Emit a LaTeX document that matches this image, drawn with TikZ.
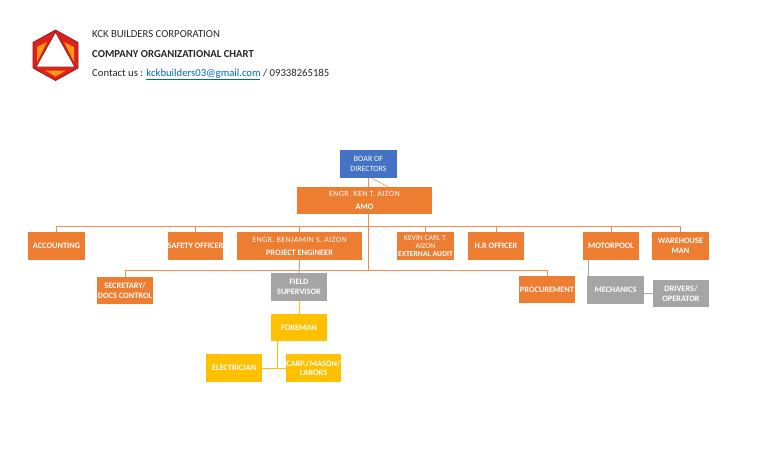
\documentclass[tikz,border=0pt]{standalone}
\usepackage{xcolor}
\usepackage{fontspec}
\setmainfont{Carlito}
\newfontfamily\spacedfont[LetterSpace=5]{Carlito}
\definecolor{chartorange}{HTML}{ED7D31}
\definecolor{chartblue}{HTML}{4472C4}
\definecolor{chartgray}{HTML}{A5A5A5}
\definecolor{chartyellow}{HTML}{FFC000}
\definecolor{linkblue}{HTML}{0563C1}
\definecolor{logored}{HTML}{E0201B}
\definecolor{logodark}{HTML}{8E1A1E}
\definecolor{logoamber}{HTML}{FB9A12}
\newcommand{\thinname}{\fontsize{8}{9.5}\selectfont\mdseries}
\newcommand{\spacedname}{\fontsize{8}{9.5}\spacedfont\selectfont\mdseries}
\tikzset{
  box/.style={inner sep=0pt, align=center, text=white, font=\fontsize{8.3}{9.5}\selectfont\bfseries},
  orangebox/.style={box, fill=chartorange},
  graybox/.style={box, fill=chartgray},
  yellowbox/.style={box, fill=chartyellow},
  sized/.style n args={2}{minimum width=#1pt, minimum height=#2pt},
  orangeline/.style={draw=chartorange!85, line width=1pt},
  grayline/.style={draw=chartgray, line width=1pt},
  yellowline/.style={draw=chartyellow, line width=1pt},
  headtext/.style={anchor=west, inner sep=0pt, text=black!85, font=\fontsize{10.7}{12}\selectfont}
}
\begin{document}
\begin{tikzpicture}[x=1pt, y=-1pt]
  \useasboundingbox (0,0) rectangle (768,466);
  % logo
  \filldraw[fill=logored, draw=logodark, line width=0.8pt] (55.5,30) -- (78,42.5) -- (78,68) -- (55.5,80.5) -- (33,68) -- (33,42.5) -- cycle;
  \fill[logoamber] (47,42) -- (37,47) -- (37,62) -- cycle;
  \fill[logoamber] (64,42) -- (74,47) -- (74,62) -- cycle;
  \fill[logoamber] (45,70.5) -- (66,70.5) -- (55.5,76.5) -- cycle;
  \filldraw[fill=white, draw=logodark, line width=0.8pt] (55.5,32) -- (75,67) -- (36,67) -- cycle;
  % header
  \node[headtext] (company) at (92,34) {KCK BUILDERS CORPORATION};
  \node[headtext, font=\fontsize{10.7}{12}\selectfont\bfseries] (title) at (92,54) {COMPANY ORGANIZATIONAL CHART};
  \node[headtext] (contact) at (92,74) {Contact us : \textcolor{linkblue}{kckbuilders03@gmail.com} / 09338265185};
  \draw[linkblue, line width=0.6pt] (145.5,79.5) -- (259.5,79.5);

  % boxes
  \node[box, fill=chartblue, sized={57}{28}, font=\thinname] (board) at (368.5,164) {BOAR OF\\DIRECTORS};
  \node[orangebox, sized={135}{27}] (amo) at (364.5,200.5) {{\spacedname ENGR. KEN T. AIZON}\\[3.5pt]AMO};
  \node[orangebox, sized={57}{28}] (accounting) at (56.5,246) {ACCOUNTING};
  \node[orangebox, sized={55}{28}] (safety) at (195.5,246) {SAFETY OFFICER};
  \node[orangebox, sized={125}{28}] (engineer) at (299.5,246) {{\spacedname ENGR. BENJAMIN S. AIZON}\\[3.5pt]PROJECT ENGINEER};
  \node[orangebox, sized={57}{28}, font=\fontsize{7.7}{8.3}\selectfont\bfseries] (audit) at (425.5,246) {{\fontsize{7.6}{8.3}\selectfont\mdseries KEVIN CARL T.}\\{\fontsize{7.6}{8.3}\selectfont\mdseries AIZON}\\EXTERNAL AUDIT};
  \node[orangebox, sized={56}{28}] (hr) at (496,246) {H.R OFFICER};
  \node[orangebox, sized={56}{28}] (motorpool) at (611,246) {MOTORPOOL};
  \node[orangebox, sized={57}{28}] (warehouse) at (680.5,246) {WAREHOUSE\\MAN};
  \node[orangebox, sized={56}{27}] (secretary) at (125,290.5) {SECRETARY/\\DOCS CONTROL};
  \node[graybox, sized={56}{28}] (field) at (299,287) {FIELD\\SUPERVISOR};
  \node[orangebox, sized={56}{27}] (procurement) at (547,289.5) {PROCUREMENT};
  \node[graybox, sized={57}{28}] (mechanics) at (615.5,290) {MECHANICS};
  \node[graybox, sized={56}{27}] (drivers) at (681,293.5) {DRIVERS/\\OPERATOR};
  \node[yellowbox, sized={56}{27}] (foreman) at (299,327.5) {FOREMAN};
  \node[yellowbox, sized={56}{28}] (electrician) at (234,368) {ELECTRICIAN};
  \node[yellowbox, sized={55}{28}] (labors) at (313.5,368) {CARP./MASON/\\LABORS};

  % free ends of the two long rails
  \coordinate (toprail) at (368,226);
  \coordinate (lowrail) at (368,270);
  \coordinate (crew) at (277,368);

  % connectors
  \draw[orangeline] (board.south -| toprail) -- (amo.north -| toprail);
  \draw[orangeline, line width=0.6pt] (board.south -| 372,0) -- (amo.north -| 388,0);
  \draw[grayline] (engineer) -- (field);
  \draw[orangeline] (amo.south -| toprail) -- (lowrail);
  \foreach \target in {accounting, safety, engineer, audit, hr, motorpool, warehouse}
    \draw[orangeline] (\target.north) |- (toprail);
  \foreach \target in {secretary, procurement}
    \draw[orangeline] (\target.north) |- (lowrail);
  \draw[yellowline] (field) -- (foreman);
  \draw[yellowline] (foreman.south -| crew) -- (crew);
  \draw[yellowline] (electrician) -- (labors);
  \draw[grayline] (motorpool.south -| 588,0) -- (mechanics.north -| 588,0);
  \draw[grayline] (mechanics.east |- 0,293) -- (drivers.west |- 0,293);
\end{tikzpicture}
\end{document}
